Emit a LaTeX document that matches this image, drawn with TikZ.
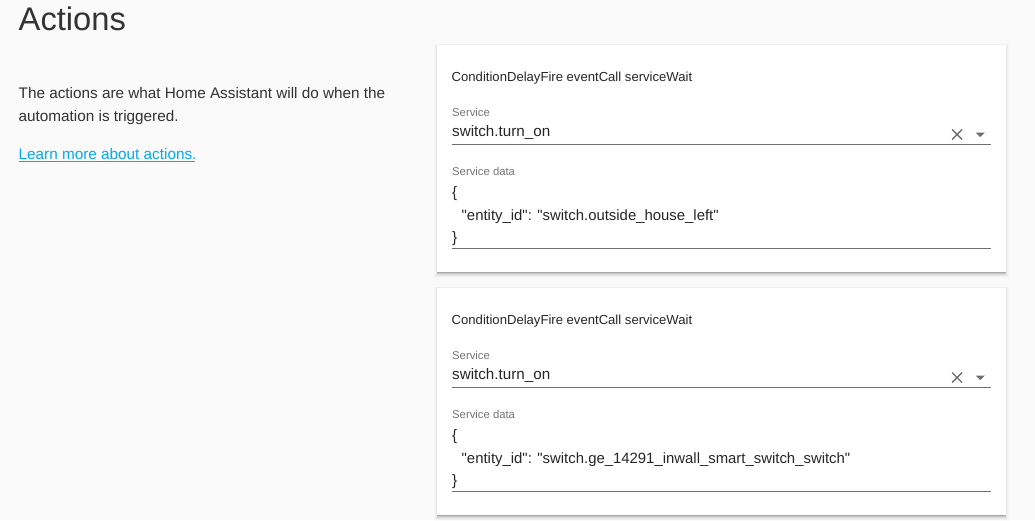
\documentclass[tikz,border=0pt]{standalone}
\usepackage{fontspec}
\setmainfont{Liberation Sans}
\newfontfamily\plainquotes{Liberation Sans}[Ligatures=NoCommon]
\usepackage{tikz}
\definecolor{pagebg}{HTML}{FAFAFA}
\definecolor{bodytext}{HTML}{333333}
\definecolor{hinttext}{HTML}{757575}
\definecolor{linktext}{HTML}{03A9F4}
\definecolor{fieldline}{HTML}{6E6E6E}
\tikzset{
  txt/.style={anchor=base west,inner sep=0pt,text=bodytext},
  hint/.style={txt,text=hinttext,font=\fontsize{11.3}{13}\selectfont},
  val/.style={txt,text=black!85,font=\fontsize{15.2}{17}\selectfont},
  ent/.style={txt,text=black!85,font=\plainquotes\fontsize{14.9}{17}\selectfont},
  tabs/.style={txt,text=black!85,font=\fontsize{13.1}{15}\selectfont},
  fieldrule/.style={fieldline,line width=1pt},
}
\begin{document}
\begin{tikzpicture}[x=1pt,y=-1pt]
\useasboundingbox (0,0) rectangle (1035,520);
\fill[pagebg] (0,0) rectangle (1035,520);
\node[txt,font=\fontsize{32.7}{36}\selectfont] (title) at (18.5,30) {Actions};
\node[txt,font=\fontsize{15.3}{17}\selectfont] (introa) at (18.5,98.5) {The actions are what Home Assistant will do when the};
\node[txt,font=\fontsize{15.3}{17}\selectfont] (introb) at (18.5,121.5) {automation is triggered.};
\node[txt,text=linktext,font=\fontsize{15.3}{17}\selectfont] (learn) at (18.5,159.5) {Learn more about actions.};
\draw[linktext,line width=0.8pt] (18.5,161.5) -- (195,161.5);
% the two cards
\foreach \dy/\name/\entity in {0/one/switch.outside\_house\_left,243/two/switch.ge\_14291\_inwall\_smart\_switch\_switch} {
  \begin{scope}[yshift=-\dy pt]
  \foreach \s/\o in {3/1.5,2/2.5,1/3} {
    \fill[black,opacity=0.01*\o] (437-\s,45-\s*0.5) rectangle (1006+\s,272+3+\s);
  }
  \foreach \s/\o in {3/6,2/9,1/14} {
    \fill[black,opacity=0.01*\o] (437,60) rectangle (1006,272+\s);
  }
  \fill[white] (437,45) rectangle (1006,272);
  \node[tabs] (tabs\name) at (451.5,81.5) {ConditionDelayFire eventCall serviceWait};
  \node[hint] (svc\name) at (452,116) {Service};
  \node[val] (val\name) at (452,136.5) {switch.turn\_on};
  \draw[fieldrule] (452,144.5) -- (991,144.5);
  \draw[fieldline,line width=1.4pt] (952,129.5) -- (962,139.5) (962,129.5) -- (952,139.5);
  \fill[fieldline] (975.5,132.5) -- (985,132.5) -- (980.2,137) -- cycle;
  \node[hint] (data\name) at (452,175) {Service data};
  \node[val] (open\name) at (452,197.5) {\{};
  \node[ent] (ent\name) at (461.5,220) {\symbol{34}entity\_id\symbol{34}: \symbol{34}\entity\symbol{34}};
  \node[val] (close\name) at (452,242.5) {\}};
  \draw[fieldrule] (452,248.5) -- (991,248.5);
  \end{scope}
}
\end{tikzpicture}
\end{document}
